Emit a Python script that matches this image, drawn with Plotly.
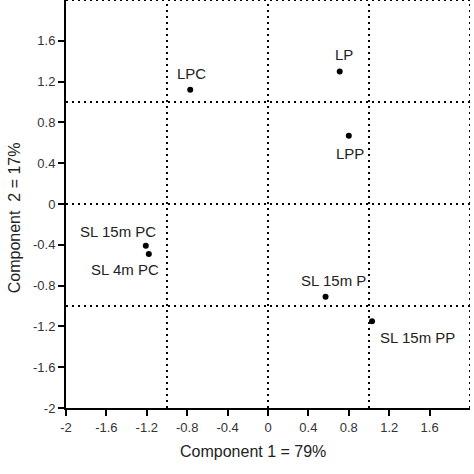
import plotly.graph_objects as go

names = ["LPC", "LP", "LPP", "SL 15m PC", "SL 4m PC", "SL 15m P", "SL 15m PP"]
comp1 = [-0.77, 0.71, 0.80, -1.21, -1.18, 0.57, 1.03]
comp2 = [1.12, 1.30, 0.67, -0.41, -0.49, -0.91, -1.15]
tick_vals = [-2, -1.6, -1.2, -0.8, -0.4, 0, 0.4, 0.8, 1.2, 1.6]
tick_text = ["-2", "-1.6", "-1.2", "-0.8", "-0.4", "0", "0.4", "0.8", "1.2", "1.6"]
grid_vals = [-1, 0, 1, 2]
x_title = "Component 1 = 79%"
y_title = "Component  2 = 17%"

# label placement: (xanchor, yanchor, xshift, yshift)
label_pos = [
    ("center", "bottom", 1, 6),
    ("center", "bottom", 4, 6),
    ("center", "top", 1, -7),
    ("right", "bottom", 12, 4),
    ("right", "top", 12, -5),
    ("center", "bottom", 8, 6),
    ("left", "top", 6, -6),
]

fig = go.Figure()
fig.add_trace(go.Scatter(x=comp1, y=comp2, mode="markers",
                         marker=dict(color="black", size=6), hoverinfo="skip"))

for v in grid_vals:
    fig.add_shape(type="line", x0=v, x1=v, y0=-2, y1=2, xref="x", yref="y",
                  line=dict(color="black", width=2, dash="2px,4px"), layer="below")
    fig.add_shape(type="line", x0=-2, x1=2, y0=v, y1=v, xref="x", yref="y",
                  line=dict(color="black", width=2, dash="2px,4px"), layer="below")

for n, x, y, (xa, ya, xs, ys) in zip(names, comp1, comp2, label_pos):
    fig.add_annotation(x=x, y=y, text=n, showarrow=False, xanchor=xa, yanchor=ya,
                       xshift=xs, yshift=ys, font=dict(size=15, color="#222"))

fig.add_annotation(x=253 / 474, y=(474 - 451) / 474, xref="paper", yref="paper",
                   text=x_title, showarrow=False, xanchor="center", yanchor="middle",
                   font=dict(size=16, color="#222"))
fig.add_annotation(x=14, y=-0.14, xref="paper", yref="y",
                   text=y_title, showarrow=False, textangle=-90,
                   xanchor="center", yanchor="middle", font=dict(size=16, color="#222"))

axis_common = dict(range=[-2, 2], tickvals=tick_vals, ticktext=tick_text,
                   showgrid=False, zeroline=False, showline=True, linecolor="black",
                   linewidth=2, ticks="outside", ticklen=6, tickwidth=2,
                   tickcolor="black", tickfont=dict(size=13, color="#333"))

fig.update_layout(
    width=474, height=474, margin=dict(l=66, r=4, t=0, b=66),
    paper_bgcolor="white", plot_bgcolor="white", showlegend=False,
    font=dict(family="Liberation Sans, Arial, sans-serif", color="#222"),
    xaxis=dict(**axis_common),
    yaxis=dict(**axis_common),
)
# position y-title in paper coords (x) relative to plot width
fig.layout.annotations[-1].update(x=(14 - 66) / (474 - 66 - 4), xanchor="center")
fig.layout.annotations[-2].update(x=(253 - 66) / (474 - 66 - 4),
                                  y=(408 - 451) / 408)
fig.write_html("out.html")
